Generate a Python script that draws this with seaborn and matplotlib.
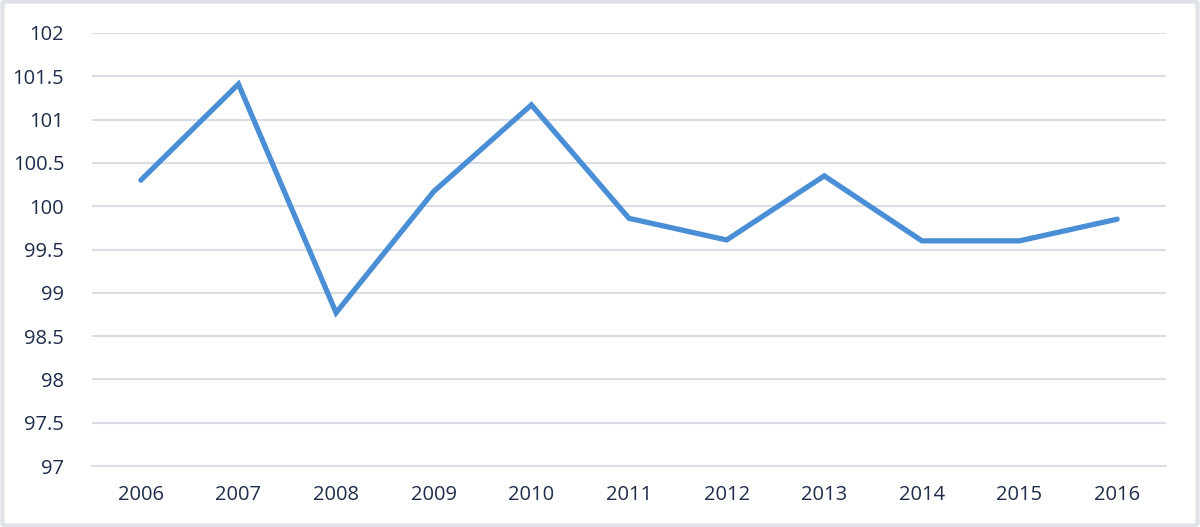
import matplotlib
matplotlib.use("Agg")
import matplotlib.pyplot as plt
from matplotlib.patches import FancyBboxPatch
import seaborn as sns
import pandas as pd
import numpy as np

years = ["2006", "2007", "2008", "2009", "2010", "2011", "2012", "2013", "2014", "2015", "2016"]
values = [100.30, 101.41, 98.77, 100.17, 101.17, 99.86, 99.61, 100.35, 99.60, 99.60, 99.85]
y_ticks = [97, 97.5, 98, 98.5, 99, 99.5, 100, 100.5, 101, 101.5, 102]
y_labels = ["97", "97.5", "98", "98.5", "99", "99.5", "100", "100.5", "101", "101.5", "102"]

sns.set_theme(style="white")
plt.rcParams['font.family'] = ['Open Sans', 'DejaVu Sans']

text_color = "#1f2d4a"
grid_color = "#d9dee6"
line_color = "#4a8fd6"

df = pd.DataFrame({"x": np.arange(len(years)), "value": values})

fig = plt.figure(figsize=(12, 5.27), dpi=100)
ax = fig.add_axes([92/1200, 1 - 466/527, (1166-92)/1200, (466-33)/527])

for t in y_ticks[1:]:
    ax.axhline(t, color=grid_color, lw=1.5, zorder=0)

sns.lineplot(data=df, x="x", y="value", ax=ax, color=line_color, lw=3.8,
             solid_joinstyle="miter", solid_capstyle="round", zorder=3)

ax.set_xlim(-0.5, len(years) - 0.5)
ax.set_ylim(97, 102)
ax.set_yticks(y_ticks)
ax.set_yticklabels(y_labels)
ax.set_xticks(np.arange(len(years)))
ax.set_xticklabels(years)
ax.set_xticks(np.arange(len(years) + 1) - 0.5, minor=True)
ax.tick_params(axis="x", which="major", length=0, pad=14, labelsize=14.5, labelcolor=text_color)
ax.tick_params(axis="x", which="minor", length=7, width=1.5, color=grid_color, direction="out")
ax.tick_params(axis="y", length=0, pad=20, labelsize=14.5, labelcolor=text_color)
ax.set_xlabel("")
ax.set_ylabel("")
for s in ["top", "right", "left"]:
    ax.spines[s].set_visible(False)
ax.spines["bottom"].set_color(grid_color)
ax.spines["bottom"].set_linewidth(1.5)

border = FancyBboxPatch((0.002, 0.003), 0.996, 0.994, boxstyle="round,pad=0,rounding_size=0.004",
                        transform=fig.transFigure, fill=False, edgecolor="#dfe3e8", lw=3, zorder=0)
fig.patches.append(border)

fig.savefig("out.png", dpi=100)
